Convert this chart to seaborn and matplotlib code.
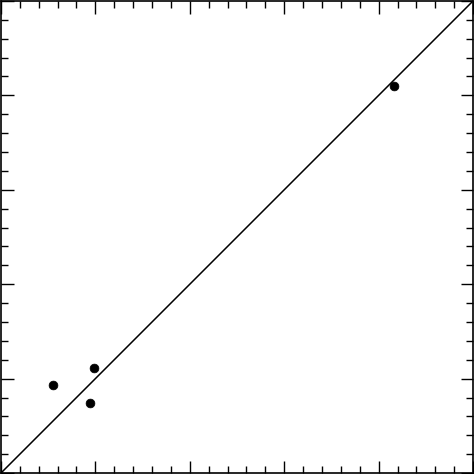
import matplotlib
matplotlib.use("Agg")
import matplotlib.pyplot as plt
import seaborn as sns
from matplotlib.ticker import MultipleLocator, NullFormatter

sns.set_style("white")
x = [0.55, 0.99, 0.94, 4.16]
y = [0.93, 1.11, 0.74, 4.10]
line = [0, 5]

fig = plt.figure(figsize=(4.74, 4.74), dpi=100)
ax = fig.add_axes([0.002, 0.002, 0.996, 0.996])
sns.lineplot(x=line, y=line, color="black", lw=1.1, ax=ax)
sns.scatterplot(x=x, y=y, color="black", s=40, edgecolor="black", ax=ax, zorder=3)
ax.set_xlim(0, 5); ax.set_ylim(0, 5)
for a in (ax.xaxis, ax.yaxis):
    a.set_major_locator(MultipleLocator(1))
    a.set_minor_locator(MultipleLocator(0.2))
    a.set_major_formatter(NullFormatter())
ax.tick_params(which="both", direction="in", top=True, right=True, bottom=True, left=True, color="black")
ax.tick_params(which="major", length=9, width=1)
ax.tick_params(which="minor", length=5, width=1)
for s in ax.spines.values():
    s.set_color("black"); s.set_linewidth(1.2)
fig.savefig("out.png", dpi=100)
